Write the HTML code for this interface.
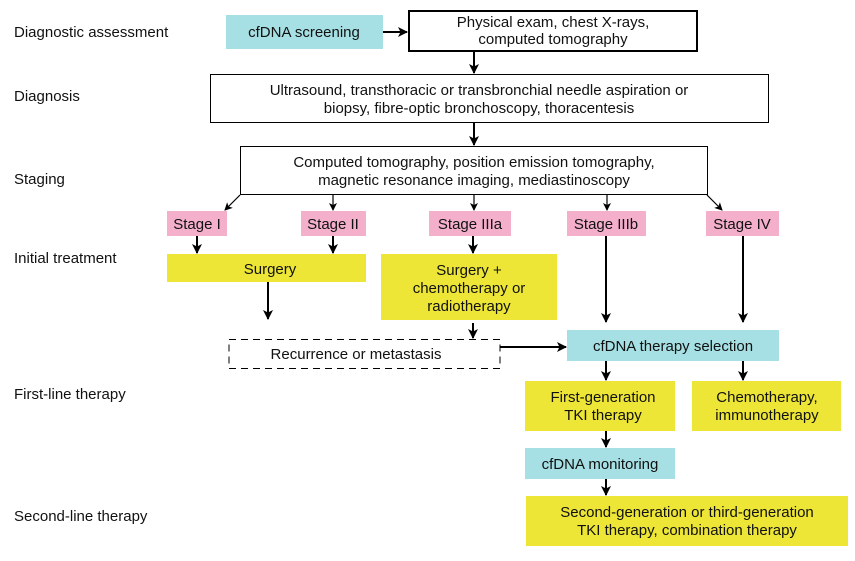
<!DOCTYPE html>
<html><head><meta charset="utf-8"><style>
body{margin:0;background:#fff;}
svg text{font-family:"Liberation Sans",Arial,sans-serif;font-size:15px;fill:#111;}
</style></head><body>
<svg width="855" height="556" viewBox="0 0 855 556" xmlns="http://www.w3.org/2000/svg">
<defs><marker id="a" markerWidth="8" markerHeight="8" refX="7" refY="4" orient="auto" markerUnits="userSpaceOnUse"><path d="M0,0 L8,4 L0,8 L2,4 z" fill="#000"/></marker>
<marker id="b" markerWidth="10" markerHeight="10" refX="9" refY="5" orient="auto" markerUnits="userSpaceOnUse"><path d="M0,0 L10,5 L0,10 L2.5,5 z" fill="#000"/></marker></defs>
<g>
<text x="14" y="37">Diagnostic assessment</text>
<text x="14" y="101">Diagnosis</text>
<text x="14" y="184">Staging</text>
<text x="14" y="263">Initial treatment</text>
<text x="14" y="399">First-line therapy</text>
<text x="14" y="521">Second-line therapy</text>
</g>
<rect x="226" y="15" width="157" height="34" fill="#a6e0e4"/>
<text x="304" y="37" text-anchor="middle">cfDNA screening</text>
<rect x="409" y="11" width="288" height="40" fill="#fff" stroke="#000" stroke-width="2"/>
<text x="553" y="27" text-anchor="middle">Physical exam, chest X-rays,</text>
<text x="553" y="44" text-anchor="middle">computed tomography</text>
<line x1="383" y1="32" x2="407" y2="32" stroke="#000" stroke-width="2" marker-end="url(#b)"/>
<rect x="210.5" y="74.5" width="558" height="48" fill="#fff" stroke="#000"/>
<text x="479" y="95" text-anchor="middle">Ultrasound, transthoracic or transbronchial needle aspiration or</text>
<text x="479" y="113" text-anchor="middle">biopsy, fibre-optic bronchoscopy, thoracentesis</text>
<line x1="474" y1="52" x2="474" y2="73" stroke="#000" stroke-width="2" marker-end="url(#b)"/>
<rect x="240.5" y="146.5" width="467" height="48" fill="#fff" stroke="#000"/>
<text x="474" y="167" text-anchor="middle">Computed tomography, position emission tomography,</text>
<text x="474" y="185" text-anchor="middle">magnetic resonance imaging, mediastinoscopy</text>
<line x1="474" y1="123" x2="474" y2="145" stroke="#000" stroke-width="2" marker-end="url(#b)"/>
<g stroke="#000" stroke-width="1.2">
<line x1="240" y1="195" x2="225" y2="210" marker-end="url(#a)"/>
<line x1="333" y1="195" x2="333" y2="210" marker-end="url(#a)"/>
<line x1="474" y1="195" x2="474" y2="210" marker-end="url(#a)"/>
<line x1="607" y1="195" x2="607" y2="210" marker-end="url(#a)"/>
<line x1="707" y1="195" x2="722" y2="210" marker-end="url(#a)"/>
</g>
<g fill="#f4afcb">
<rect x="167" y="211" width="60" height="25"/><rect x="301" y="211" width="65" height="25"/>
<rect x="429" y="211" width="82" height="25"/><rect x="567" y="211" width="79" height="25"/>
<rect x="706" y="211" width="73" height="25"/></g>
<g text-anchor="middle">
<text x="197" y="229">Stage I</text><text x="333" y="229">Stage II</text>
<text x="470" y="229">Stage IIIa</text><text x="606" y="229">Stage IIIb</text><text x="742" y="229">Stage IV</text></g>
<g fill="#ede637">
<rect x="167" y="254" width="199" height="28"/>
<rect x="381" y="254" width="176" height="66"/>
<rect x="525" y="381" width="150" height="50"/>
<rect x="692" y="381" width="149" height="50"/>
<rect x="526" y="496" width="322" height="50"/></g>
<g text-anchor="middle">
<text x="270" y="274">Surgery</text>
<text x="469" y="275">Surgery +</text><text x="469" y="293">chemotherapy or</text><text x="469" y="311">radiotherapy</text>
<text x="603" y="402">First-generation</text><text x="603" y="420">TKI therapy</text>
<text x="767" y="402">Chemotherapy,</text><text x="767" y="420">immunotherapy</text>
<text x="687" y="517">Second-generation or third-generation</text><text x="687" y="535">TKI therapy, combination therapy</text></g>
<rect x="229" y="339.5" width="271" height="29" fill="#fff" stroke="#000" stroke-dasharray="7,5"/>
<text x="356" y="359" text-anchor="middle">Recurrence or metastasis</text>
<g fill="#a6e0e4"><rect x="567" y="330" width="212" height="31"/><rect x="525" y="448" width="150" height="31"/></g>
<text x="673" y="351" text-anchor="middle">cfDNA therapy selection</text>
<text x="600" y="469" text-anchor="middle">cfDNA monitoring</text>
<g stroke="#000" stroke-width="2">
<line x1="197" y1="236" x2="197" y2="253" marker-end="url(#b)"/>
<line x1="333" y1="236" x2="333" y2="253" marker-end="url(#b)"/>
<line x1="473" y1="236" x2="473" y2="253" marker-end="url(#b)"/>
<line x1="268" y1="282" x2="268" y2="319" marker-end="url(#b)"/>
<line x1="473" y1="323" x2="473" y2="338" marker-end="url(#b)"/>
<line x1="606" y1="236" x2="606" y2="322" marker-end="url(#b)"/>
<line x1="743" y1="236" x2="743" y2="322" marker-end="url(#b)"/>
<line x1="500" y1="347" x2="566" y2="347" marker-end="url(#b)"/>
<line x1="606" y1="361" x2="606" y2="380" marker-end="url(#b)"/>
<line x1="743" y1="361" x2="743" y2="380" marker-end="url(#b)"/>
<line x1="606" y1="431" x2="606" y2="447" marker-end="url(#b)"/>
<line x1="606" y1="479" x2="606" y2="495" marker-end="url(#b)"/>
</g>
</svg>
</body></html>
